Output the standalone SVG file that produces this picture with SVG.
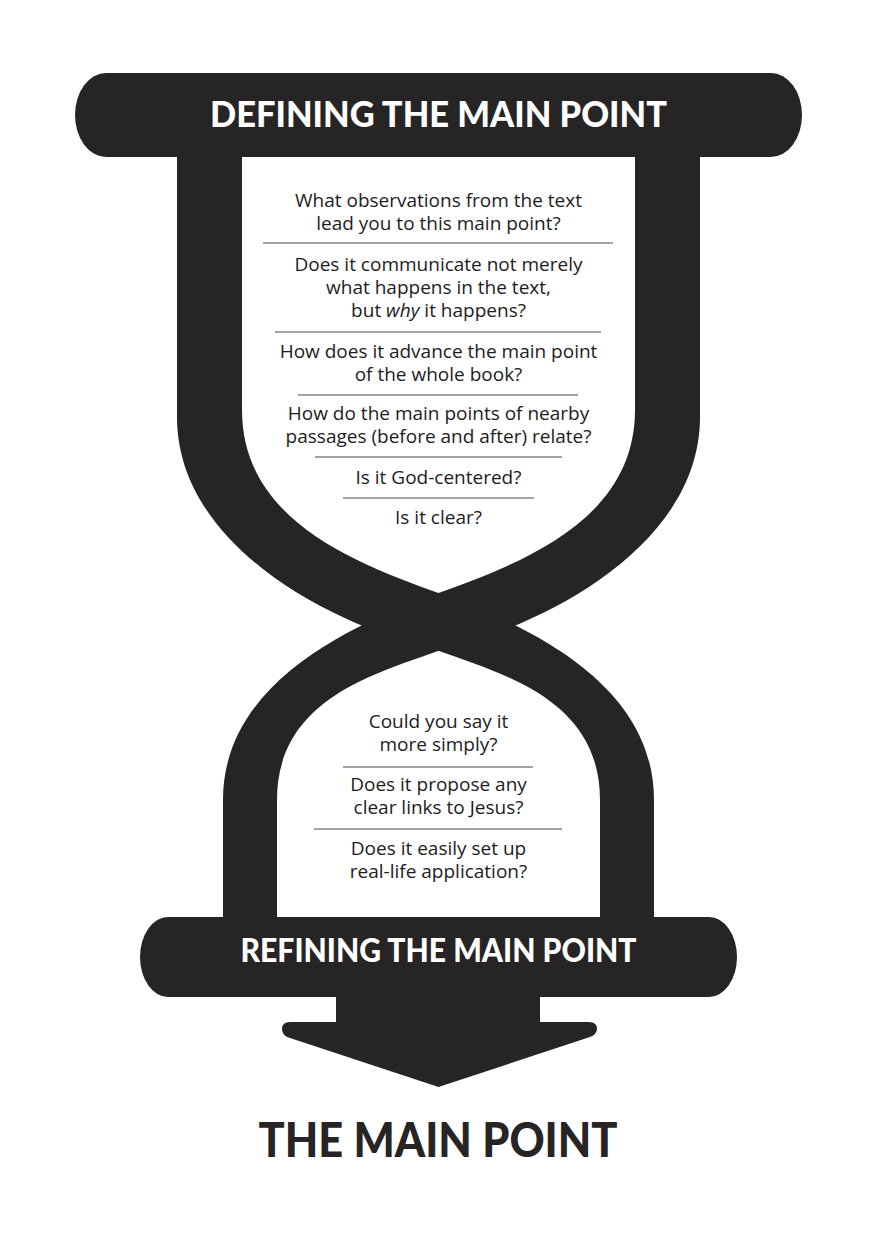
<svg xmlns="http://www.w3.org/2000/svg" xmlns:xlink="http://www.w3.org/1999/xlink" width="875" height="1240" viewBox="0 0 875 1240">
  <style>
    .ink { fill: #272425; }
    .title { font-family: Lato, "Open Sans", "Liberation Sans", sans-serif; font-weight: 900; text-anchor: middle; }
    .white { fill: #ffffff; }
    .q { font-family: "Open Sans", Lato, "Liberation Sans", sans-serif; font-size: 19px; font-weight: 500; fill: #1e1c1d; text-anchor: middle; }
    .sep { stroke: #4a4849; stroke-width: 1; }
  </style>
  <defs>
    <path id="bandA" class="ink" d="M 177 150 L 177 417 C 177 545 330 625 438.5 650.7 C 504.3 674.5 600 700 600 800 L 600 930 L 654 930 L 654 800 C 654 690 542 630.4 438.5 593 C 355 563 242 520 242 410 L 242 150 Z"/>
  </defs>
  <rect width="875" height="1240" fill="#ffffff"/>

  <g id="connectors">
    <use xlink:href="#bandA" href="#bandA"/>
    <use xlink:href="#bandA" href="#bandA" transform="matrix(-1 0 0 1 877 0)"/>
  </g>

  <g id="defining">
    <rect class="ink" x="75" y="73" width="727" height="84" rx="31" ry="42"/>
    <text class="title white" x="438.5" y="127" font-size="36" textLength="457" lengthAdjust="spacingAndGlyphs">DEFINING THE MAIN POINT</text>
  </g>

  <g id="defining-questions">
    <text class="q" x="438.5" y="207"><tspan x="438.5">What observations from the text</tspan><tspan x="438.5" dy="23">lead you to this main point?</tspan></text>
    <line class="sep" x1="263" y1="243" x2="613" y2="243"/>
    <text class="q" x="438.5" y="271"><tspan x="438.5">Does it communicate not merely</tspan><tspan x="438.5" dy="23">what happens in the text,</tspan><tspan x="438.5" dy="23">but <tspan font-style="italic">why</tspan> it happens?</tspan></text>
    <line class="sep" x1="275" y1="332" x2="601" y2="332"/>
    <text class="q" x="438.5" y="358"><tspan x="438.5">How does it advance the main point</tspan><tspan x="438.5" dy="23">of the whole book?</tspan></text>
    <line class="sep" x1="298" y1="395" x2="578" y2="395"/>
    <text class="q" x="438.5" y="420"><tspan x="438.5">How do the main points of nearby</tspan><tspan x="438.5" dy="23">passages (before and after) relate?</tspan></text>
    <line class="sep" x1="315" y1="457" x2="562" y2="457"/>
    <text class="q" x="438.5" y="484">Is it God-centered?</text>
    <line class="sep" x1="343" y1="498" x2="534" y2="498"/>
    <text class="q" x="438.5" y="524">Is it clear?</text>
  </g>

  <g id="refining-questions">
    <text class="q" x="438.5" y="728"><tspan x="438.5">Could you say it</tspan><tspan x="438.5" dy="23">more simply?</tspan></text>
    <line class="sep" x1="343" y1="767" x2="533" y2="767"/>
    <text class="q" x="438.5" y="791"><tspan x="438.5">Does it propose any</tspan><tspan x="438.5" dy="23">clear links to Jesus?</tspan></text>
    <line class="sep" x1="314" y1="829" x2="562" y2="829"/>
    <text class="q" x="438.5" y="855"><tspan x="438.5">Does it easily set up</tspan><tspan x="438.5" dy="23">real-life application?</tspan></text>
  </g>

  <g id="refining">
    <rect class="ink" x="140" y="917" width="597" height="80" rx="28" ry="40"/>
    <text class="title white" x="438.5" y="962" font-size="32" textLength="396" lengthAdjust="spacingAndGlyphs">REFINING THE MAIN POINT</text>
  </g>

  <g id="arrow">
    <rect class="ink" x="336" y="990" width="204" height="34"/>
    <path class="ink" d="M 290 1022 L 589 1022 Q 597 1022 597 1029 Q 597 1034 590 1037 L 438.5 1087 L 287 1037 Q 282 1034 282 1029 Q 282 1022 290 1022 Z"/>
  </g>

  <g id="main-point">
    <text class="title" x="438" y="1157" font-size="48" fill="#272425" textLength="359" lengthAdjust="spacingAndGlyphs">THE MAIN POINT</text>
  </g>
</svg>
